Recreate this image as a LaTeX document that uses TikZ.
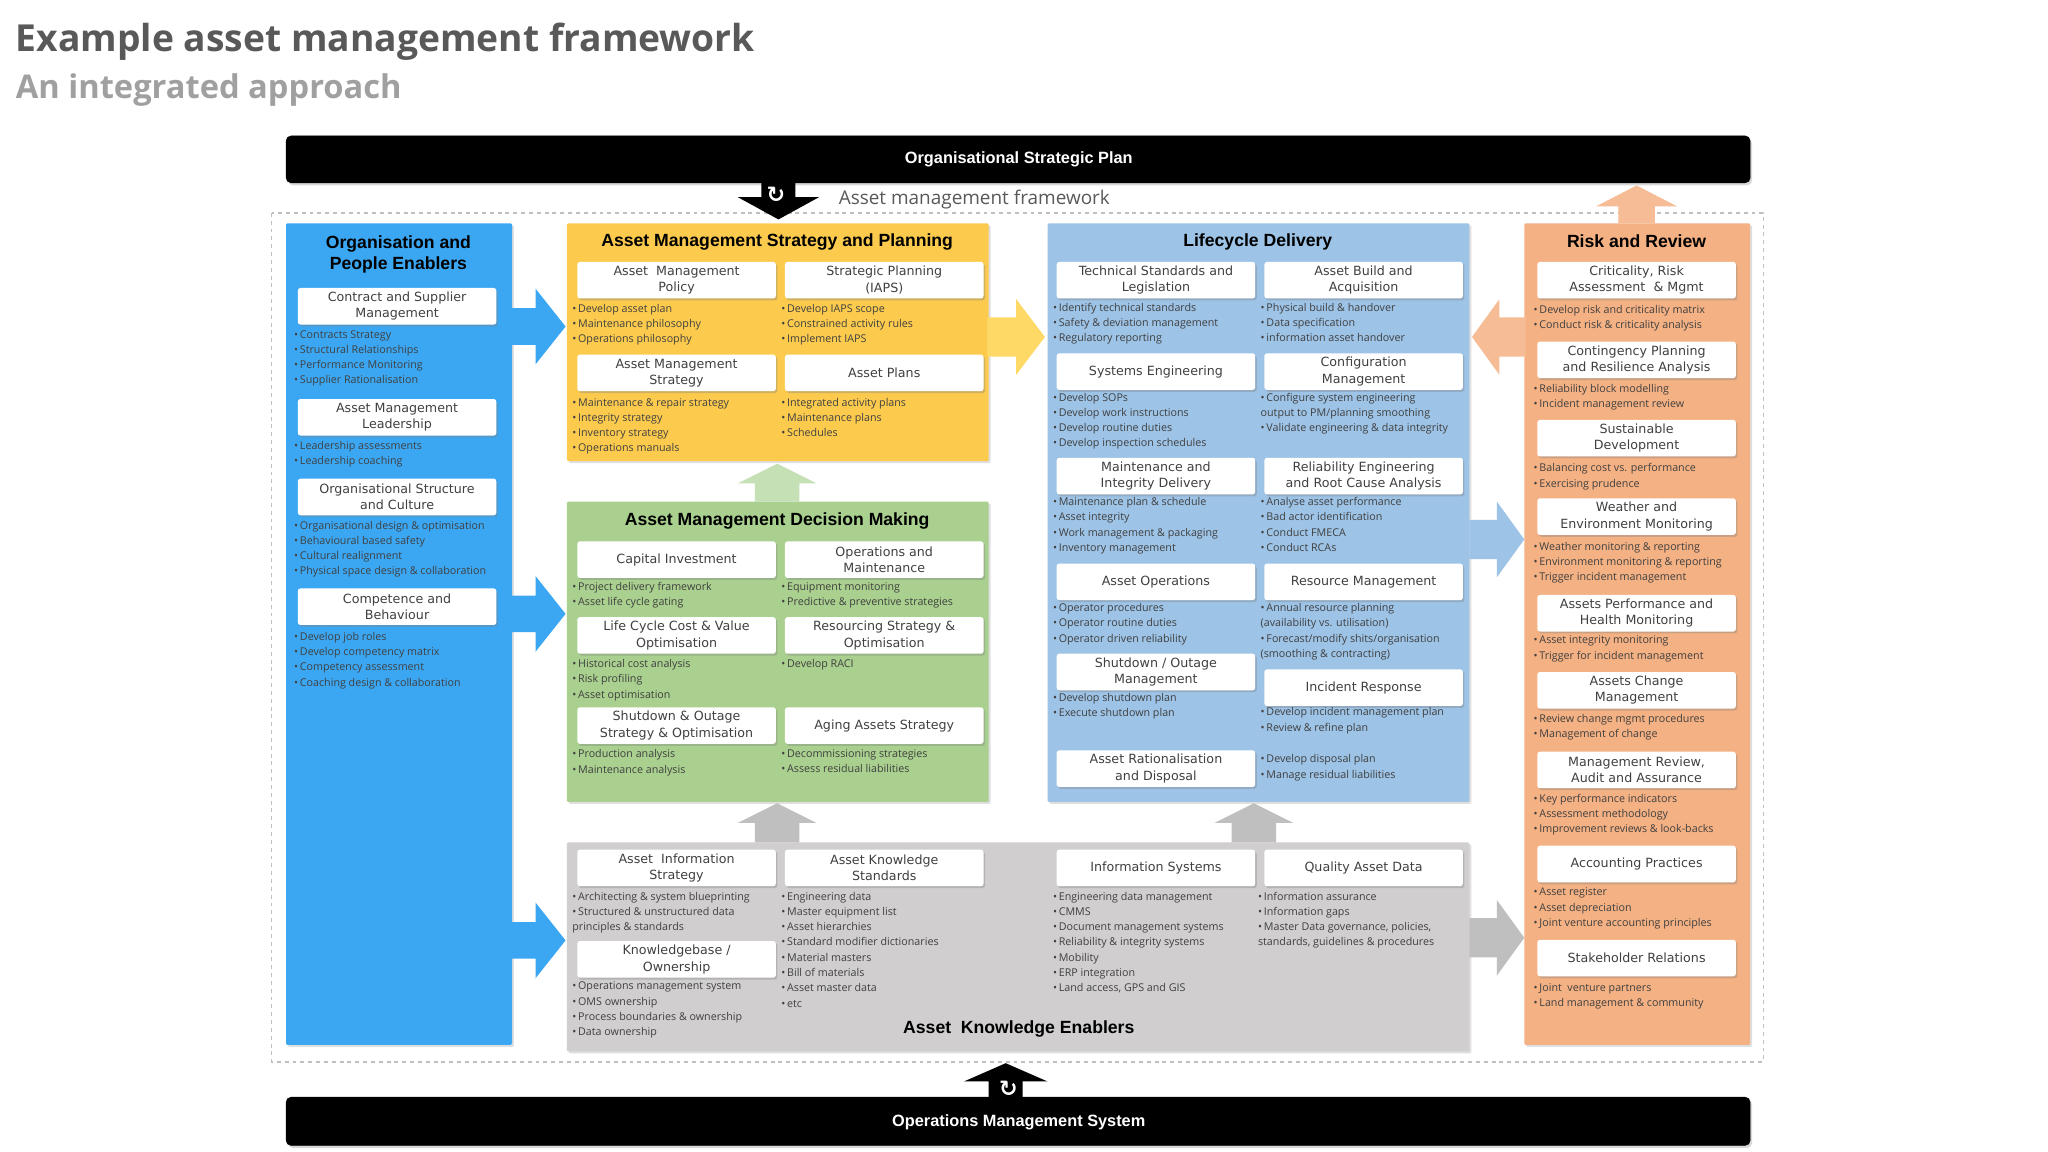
\documentclass[tikz,border=0pt]{standalone}
\usepackage{fontspec}
\setmainfont{Open Sans}
\newfontfamily\cardf{DejaVu Sans}
\newfontfamily\titf{Liberation Sans}
\newfontfamily\symf{DejaVu Sans}
\usetikzlibrary{shadows}
\definecolor{blueC}{HTML}{3BA7F3}
\definecolor{yelC}{HTML}{FCCB4E}
\definecolor{grnC}{HTML}{A9D08E}
\definecolor{lbC}{HTML}{9DC3E6}
\definecolor{orC}{HTML}{F4B183}
\definecolor{gryC}{HTML}{D0CECE}
\definecolor{yelA}{HTML}{FFD966}
\definecolor{grnA}{HTML}{C5E0B4}
\definecolor{grA}{HTML}{BFBFBF}
\definecolor{orA}{HTML}{F5BC96}
\definecolor{txtgray}{HTML}{404040}
\definecolor{ttl}{HTML}{595959}
\definecolor{subttl}{HTML}{A0A0A0}
\tikzset{
 card/.style={fill=white, rounded corners=2pt, minimum width=152pt, minimum height=28pt, inner sep=1pt, align=center, font=\cardf\fontsize{9.7}{12.5}\selectfont, text=txtgray, drop shadow={opacity=0.35,shadow xshift=1.2pt,shadow yshift=-1.5pt}},
 bul/.style={anchor=north west, inner sep=0pt, align=left, font=\fontsize{8.2}{11.7}\selectfont, text=txtgray},
 area/.style={rounded corners=1pt, drop shadow={opacity=0.25,shadow xshift=1.5pt,shadow yshift=-1.5pt}},
 areatitle/.style={font=\titf\bfseries\fontsize{13.5}{16}\selectfont, text=black, align=center},
 bar/.style={fill=black, rounded corners=4pt, drop shadow={opacity=0.3,shadow xshift=1.5pt,shadow yshift=-2pt}},
 bartext/.style={font=\titf\bfseries\fontsize{12.5}{15}\selectfont, text=white},
 sym/.style={font=\symf\bfseries\fontsize{17}{17}\selectfont, text=white},
}
\newcommand\cd[4]{\node[card] (#1) at ({#2+76},{#3+14.5}) {#4};}
\newcommand\bl[4]{\node[bul] (#1) at ({#2},{#3-6.3}) {#4};}
\newcommand\bu{\textbullet\,}
\newcommand\rarr[7]{\fill[#7] (#1,{#4-#5}) -- (#2,{#4-#5}) -- (#2,{#4-#6}) -- (#3,#4) -- (#2,{#4+#6}) -- (#2,{#4+#5}) -- (#1,{#4+#5}) -- cycle;}
\newcommand\uarr[7]{\fill[#7] ({#4-#5},#1) -- ({#4-#5},#2) -- ({#4-#6},#2) -- (#4,#3) -- ({#4+#6},#2) -- ({#4+#5},#2) -- ({#4+#5},#1) -- cycle;}
\begin{document}
\begin{tikzpicture}[x=1pt,y=-1pt]
\useasboundingbox[fill=white] (0,0) rectangle (1568,882);
% titles
\node[anchor=west, inner sep=0, font=\bfseries\fontsize{28.5}{34}\selectfont, text=ttl] (title) at (12,32) {Example asset management framework};
\node[anchor=west, inner sep=0, font=\bfseries\fontsize{25}{30}\selectfont, text=subttl] (subtitle) at (12,69) {An integrated approach};
% dashed frame
\draw[dashed, gray!50, line width=1pt] (208,163) rectangle (1350,813);
% bars
\draw[bar] (219,104) rectangle (1340,140);
\node[bartext] (osp) at (780,122) {Organisational Strategic Plan};
\draw[bar] (219,840) rectangle (1340,877);
\node[bartext] (oms) at (780,859) {Operations Management System};
% areas
\fill[area, blueC] (219,171) rectangle (392,800);
\fill[area, yelC] (434,171) rectangle (757,353);
\fill[area, grnC] (434,384) rectangle (757,614);
\fill[area, lbC] (802,171) rectangle (1125,614);
\fill[area, orC] (1167,171) rectangle (1340,800);
\fill[area, gryC] (434,645) rectangle (1125,805);
% arrows
\uarr{139}{151}{168}{596}{13}{31}{black}
\node[sym] (sym1) at (594,149) {↻};
\node[anchor=west, font=\fontsize{14.5}{17}\selectfont, text=ttl, inner sep=0] (amf) at (642,153) {Asset management framework};
\uarr{171}{158}{142}{1253}{14}{31}{orA}
\uarr{841}{828}{814}{770}{13}{32}{black}
\node[sym] (sym2) at (772,834) {↻};
\rarr{390}{410}{433}{250}{14}{29}{blueC}
\rarr{390}{410}{433}{470}{14}{29}{blueC}
\rarr{390}{410}{433}{720}{14}{29}{blueC}
\rarr{756}{778}{800}{258}{15}{29}{yelA}
\rarr{1168}{1148}{1127}{258}{15}{29}{orA}
\rarr{1125}{1146}{1167}{413}{15}{29}{lbC}
\rarr{1125}{1146}{1167}{718}{15}{29}{grA}
\uarr{384}{370}{355}{595}{17}{30}{grnA}
\uarr{645}{630}{615}{595}{17}{30}{grA}
\uarr{645}{630}{615}{960}{17}{30}{grA}
% area titles
\node[areatitle] (t1) at (305,195) {Organisation and\\People Enablers};
\node[areatitle] (t2) at (595,185) {Asset Management Strategy and Planning};
\node[areatitle] (t3) at (595,399) {Asset Management Decision Making};
\node[areatitle] (t4) at (963,185) {Lifecycle Delivery};
\node[areatitle] (t5) at (1253,185) {Risk and Review};
\node[areatitle] (t6) at (780,788) {Asset\ \ Knowledge Enablers};
% blue column
\cd{b1}{228}{220}{Contract and Supplier\\Management}
\bl{bb1}{225}{259}{\bu Contracts Strategy\\\bu Structural Relationships\\\bu Performance Monitoring\\\bu Supplier Rationalisation}
\cd{b2}{228}{305}{Asset Management\\Leadership}
\bl{bb2}{225}{344}{\bu Leadership assessments\\\bu Leadership coaching}
\cd{b3}{228}{366}{Organisational Structure\\and Culture}
\bl{bb3}{225}{405}{\bu Organisational design \& optimisation\\\bu Behavioural based safety\\\bu Cultural realignment\\\bu Physical space design \& collaboration}
\cd{b4}{228}{450}{Competence and\\Behaviour}
\bl{bb4}{225}{490}{\bu Develop job roles\\\bu Develop competency matrix\\\bu Competency assessment\\\bu Coaching design \& collaboration}
% yellow
\cd{y1}{442}{200}{Asset\ \ Management\\Policy}
\cd{y2}{601}{200}{Strategic Planning\\(IAPS)}
\bl{yb1}{438}{239}{\bu Develop asset plan\\\bu Maintenance philosophy\\\bu Operations philosophy}
\bl{yb2}{598}{239}{\bu Develop IAPS scope\\\bu Constrained activity rules\\\bu Implement IAPS}
\cd{y3}{442}{271}{Asset Management\\Strategy}
\cd{y4}{601}{271}{Asset Plans}
\bl{yb3}{438}{311}{\bu Maintenance \& repair strategy\\\bu Integrity strategy\\\bu Inventory strategy\\\bu Operations manuals}
\bl{yb4}{598}{311}{\bu Integrated activity plans\\\bu Maintenance plans\\\bu Schedules}
% green
\cd{g1}{442}{414}{Capital Investment}
\cd{g2}{601}{414}{Operations and\\Maintenance}
\bl{gb1}{438}{452}{\bu Project delivery framework\\\bu Asset life cycle gating}
\bl{gb2}{598}{452}{\bu Equipment monitoring\\\bu Predictive \& preventive strategies}
\cd{g3}{442}{472}{Life Cycle Cost \& Value\\Optimisation}
\cd{g4}{601}{472}{Resourcing Strategy \&\\Optimisation}
\bl{gb3}{438}{511}{\bu Historical cost analysis\\\bu Risk profiling\\\bu Asset optimisation}
\bl{gb4}{598}{511}{\bu Develop RACI}
\cd{g5}{442}{541}{Shutdown \& Outage\\Strategy \& Optimisation}
\cd{g6}{601}{541}{Aging Assets Strategy}
\bl{gb5}{438}{580}{\bu Production analysis\\\bu Maintenance analysis}
\bl{gb6}{598}{580}{\bu Decommissioning strategies\\\bu Assess residual liabilities}
% lifecycle
\cd{l1}{809}{200}{Technical Standards and\\Legislation}
\cd{l2}{968}{200}{Asset Build and\\Acquisition}
\bl{lb1}{806}{238}{\bu Identify technical standards\\\bu Safety \& deviation management\\\bu Regulatory reporting}
\bl{lb2}{965}{238}{\bu Physical build \& handover\\\bu Data specification\\\bu information asset handover}
\cd{l3}{809}{270}{Systems Engineering}
\cd{l4}{968}{270}{Configuration\\Management}
\bl{lb3}{806}{307}{\bu Develop SOPs\\\bu Develop work instructions\\\bu Develop routine duties\\\bu Develop inspection schedules}
\bl{lb4}{965}{307}{\bu Configure system engineering\\output to PM/planning smoothing\\\bu Validate engineering \& data integrity}
\cd{l5}{809}{350}{Maintenance and\\Integrity Delivery}
\cd{l6}{968}{350}{Reliability Engineering\\and Root Cause Analysis}
\bl{lb5}{806}{387}{\bu Maintenance plan \& schedule\\\bu Asset integrity\\\bu Work management \& packaging\\\bu Inventory management}
\bl{lb6}{965}{387}{\bu Analyse asset performance\\\bu Bad actor identification\\\bu Conduct FMECA\\\bu Conduct RCAs}
\cd{l7}{809}{431}{Asset Operations}
\cd{l8}{968}{431}{Resource Management}
\bl{lb7}{806}{468}{\bu Operator procedures\\\bu Operator routine duties\\\bu Operator driven reliability}
\bl{lb8}{965}{468}{\bu Annual resource planning\\(availability vs. utilisation)\\\bu Forecast/modify shits/organisation\\(smoothing \& contracting)}
\cd{l9}{809}{500}{Shutdown / Outage\\Management}
\cd{l10}{968}{512}{Incident Response}
\bl{lb9}{806}{537}{\bu Develop shutdown plan\\\bu Execute shutdown plan}
\bl{lb10}{965}{548}{\bu Develop incident management plan\\\bu Review \& refine plan}
\cd{l11}{809}{574}{Asset Rationalisation\\and Disposal}
\bl{lb11}{965}{584}{\bu Develop disposal plan\\\bu Manage residual liabilities}
% orange
\cd{o1}{1177}{200}{Criticality, Risk\\Assessment\ \ \& Mgmt}
\bl{ob1}{1174}{240}{\bu Develop risk and criticality matrix\\\bu Conduct risk \& criticality analysis}
\cd{o2}{1177}{261}{Contingency Planning\\and Resilience Analysis}
\bl{ob2}{1174}{300}{\bu Reliability block modelling\\\bu Incident management review}
\cd{o3}{1177}{321}{Sustainable\\Development}
\bl{ob3}{1174}{361}{\bu Balancing cost vs. performance\\\bu Exercising prudence}
\cd{o4}{1177}{381}{Weather and\\Environment Monitoring}
\bl{ob4}{1174}{421}{\bu Weather monitoring \& reporting\\\bu Environment monitoring \& reporting\\\bu Trigger incident management}
\cd{o5}{1177}{455}{Assets Performance and\\Health Monitoring}
\bl{ob5}{1174}{493}{\bu Asset integrity monitoring\\\bu Trigger for incident management}
\cd{o6}{1177}{514}{Assets Change\\Management}
\bl{ob6}{1174}{553}{\bu Review change mgmt procedures\\\bu Management of change}
\cd{o7}{1177}{575}{Management Review,\\Audit and Assurance}
\bl{ob7}{1174}{614}{\bu Key performance indicators\\\bu Assessment methodology\\\bu Improvement reviews \& look-backs}
\cd{o8}{1177}{647}{Accounting Practices}
\bl{ob8}{1174}{686}{\bu Asset register\\\bu Asset depreciation\\\bu Joint venture accounting principles}
\cd{o9}{1177}{719}{Stakeholder Relations}
\bl{ob9}{1174}{759}{\bu Joint\ \ venture partners\\\bu Land management \& community}
% gray
\cd{k1}{442}{650}{Asset\ \ Information\\Strategy}
\cd{k2}{601}{650}{Asset Knowledge\\Standards}
\cd{k3}{809}{650}{Information Systems}
\cd{k4}{968}{650}{Quality Asset Data}
\bl{kb1}{438}{689}{\bu Architecting \& system blueprinting\\\bu Structured \& unstructured data\\principles \& standards}
\cd{k5}{442}{720}{Knowledgebase /\\Ownership}
\bl{kb5}{438}{758}{\bu Operations management system\\\bu OMS ownership\\\bu Process boundaries \& ownership\\\bu Data ownership}
\bl{kb2}{598}{689}{\bu Engineering data\\\bu Master equipment list\\\bu Asset hierarchies\\\bu Standard modifier dictionaries\\\bu Material masters\\\bu Bill of materials\\\bu Asset master data\\\bu etc}
\bl{kb3}{806}{689}{\bu Engineering data management\\\bu CMMS\\\bu Document management systems\\\bu Reliability \& integrity systems\\\bu Mobility\\\bu ERP integration\\\bu Land access, GPS and GIS}
\bl{kb4}{963}{689}{\bu Information assurance\\\bu Information gaps\\\bu Master Data governance, policies,\\standards, guidelines \& procedures}
\end{tikzpicture}
\end{document}
